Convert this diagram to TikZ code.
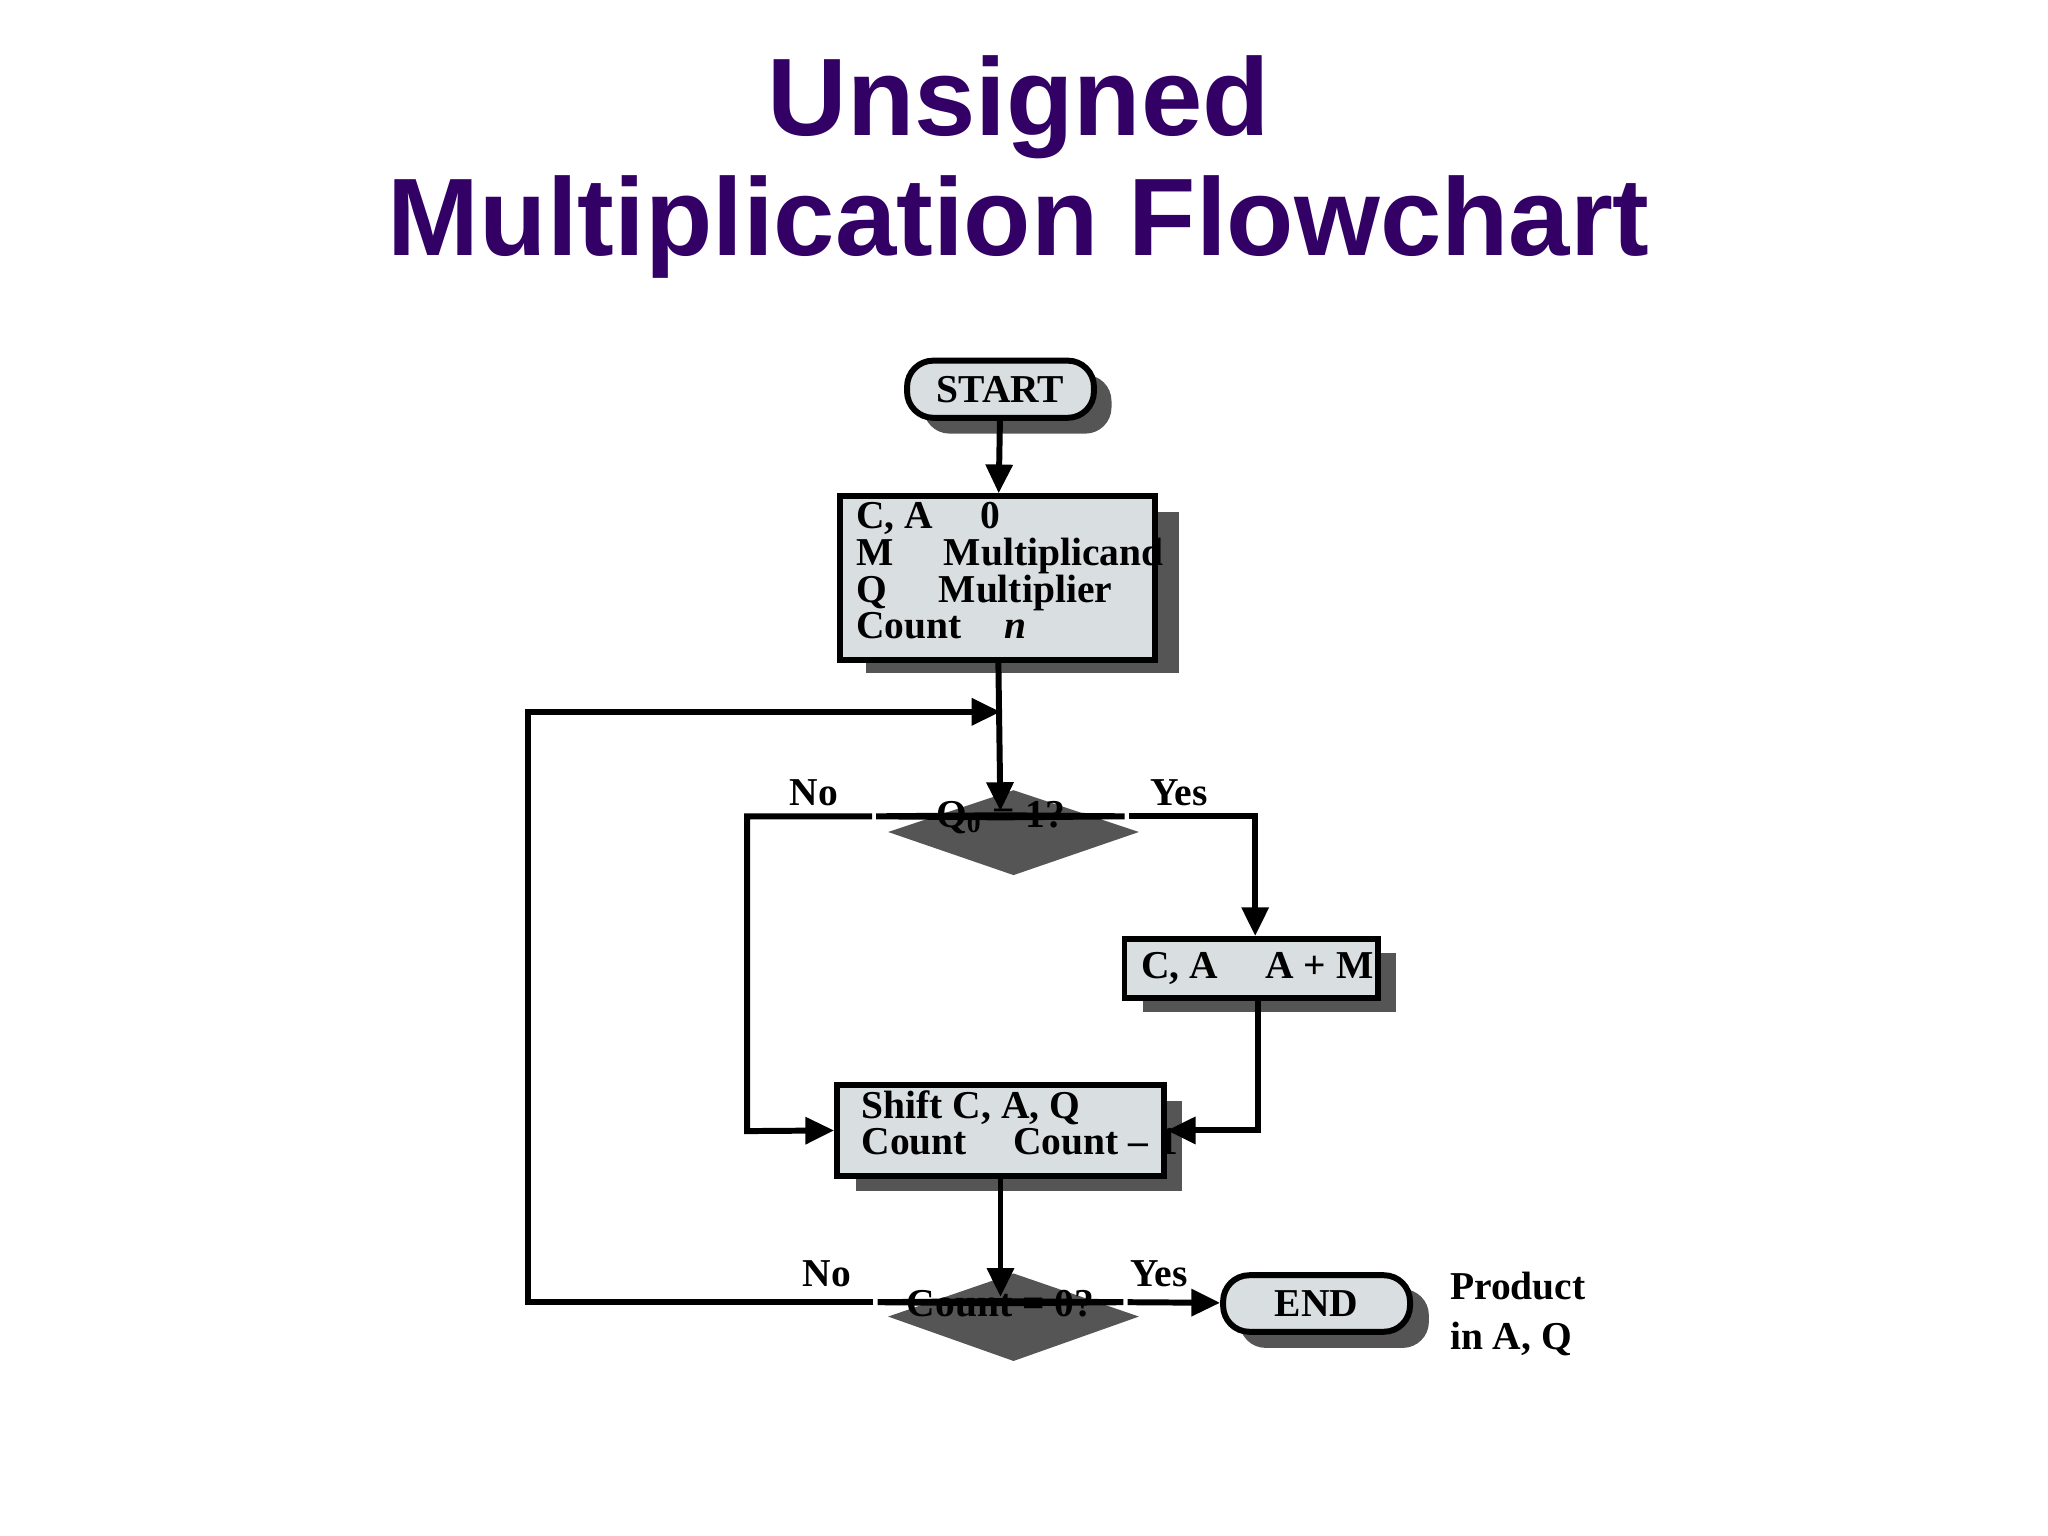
\documentclass[tikz,border=0pt]{standalone}
\usepackage{fontspec}
\setmainfont{Liberation Serif}
\newfontfamily\titlefont{Liberation Sans}
\usetikzlibrary{shapes.geometric,arrows.meta}
\definecolor{ttl}{HTML}{330066}
\definecolor{boxfill}{HTML}{D9DEE0}
\definecolor{shad}{HTML}{555555}
\begin{document}
\begin{tikzpicture}[x=0.01cm,y=-0.01cm,
  txt/.style={font=\fontsize{8.6}{10}\selectfont\bfseries,inner sep=0,anchor=base west},
  box/.style={draw,line width=1.3pt,fill=boxfill},
  sh/.style={fill=shad,draw=none},
  pill/.style={box,rounded corners=0.2cm},
  dia/.style={diamond,aspect=2.95,minimum width=1.92cm,inner sep=0,box},
  ln/.style={line width=1.3pt},
  arr/.style={ln,-{Triangle[length=0.22cm,width=0.2cm]}}]
\useasboundingbox (0,0) rectangle (1568,1176);
\node[font=\titlefont\fontsize{24}{28}\selectfont\bfseries,text=ttl,align=center] (title) at (780,128) {Unsigned\\[-2pt]Multiplication Flowchart};
% START
\fill[sh,rounded corners=0.2cm] (707,287) rectangle (851,332);
\node[pill,minimum width=1.43cm,minimum height=0.43cm,font=\fontsize{8.6}{10}\selectfont\bfseries] (start) at (766,298) {START};
% init
\fill[sh] (663,392) rectangle (903,515);
\node[box,minimum width=2.41cm,minimum height=1.25cm] (init) at (763.5,442.5) {};
\node[txt] (i1) at (655,405) {C, A};
\node[txt] (i2) at (750,405) {0};
\node[txt] (i3) at (655,433) {M};
\node[txt] (i4) at (722,433) {Multiplicand};
\node[txt] (i5) at (655,461) {Q};
\node[txt] (i6) at (718,461) {Multiplier};
\node[txt] (i7) at (655,489) {Count};
\node[txt] (i8) at (768,489) {\itshape n};
% diamond1
\fill[sh] (680,637) -- (776,605) -- (872,637) -- (776,670) -- cycle;
\node[dia] (d1) at (766,625) {};
\node[font=\fontsize{8.6}{10}\selectfont\bfseries] (d1t) at (766,626) {Q$_{\mathbf 0}$ = 1?};
\node[txt] (no1) at (604,617) {No};
\node[txt] (yes1) at (880,617) {Yes};
% CA box
\fill[sh] (875,730) rectangle (1069,775);
\node[box,minimum width=1.94cm,minimum height=0.45cm] (ca) at (958,741.5) {};
\node[txt] (c1) at (873,749) {C, A};
\node[txt] (c2) at (968,749) {A + M};
% shift box
\fill[sh] (655,843) rectangle (905,912);
\node[box,minimum width=2.5cm,minimum height=0.69cm] (sh) at (766,865.5) {};
\node[txt] (s1) at (659,856) {Shift C, A, Q};
\node[txt] (s2) at (659,884) {Count};
\node[txt] (s3) at (775,884) {Count -- 1};
% diamond2
\fill[sh] (680,1008) -- (776,975) -- (872,1008) -- (776,1042) -- cycle;
\node[dia,minimum width=1.9cm] (d2) at (766,997) {};
\node[font=\fontsize{8.6}{10}\selectfont\bfseries] (d2t) at (766,998) {Count = 0?};
\node[txt] (no2) at (614,985) {No};
\node[txt] (yes2) at (865,985) {Yes};
% END
\fill[sh,rounded corners=0.2cm] (949,987) rectangle (1094,1032);
\node[pill,minimum width=1.43cm,minimum height=0.43cm,font=\fontsize{8.6}{10}\selectfont\bfseries] (end) at (1008,998) {END};
\node[font=\fontsize{8.6}{11}\selectfont\bfseries,align=left] (prod) at (1162,1006) {Product\\in A, Q};
% connectors
\coordinate (m) at (766,545);
\draw[arr] (start) -- (init);
\draw[arr] (init) -- (d1);
\draw[arr] (d1.west) -| (572,866) -- (sh.west);
\draw[arr] (d1.east) -| (ca.north -| 961,0);
\draw[arr] (ca.south -| 963,0) |- (sh.east);
\draw[arr] (sh) -- (d2);
\draw[arr] (d2.west) -| (404,545) -- (m);
\draw[arr] (d2.east) -- (end);
\end{tikzpicture}
\end{document}
